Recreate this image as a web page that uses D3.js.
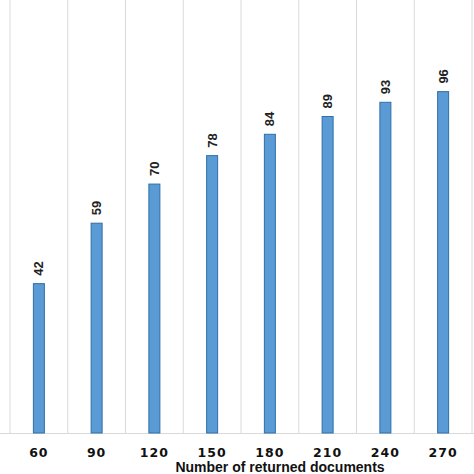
<!DOCTYPE html><html><head><script src="https://cdn.jsdelivr.net/npm/d3@7"></script>
<style>body{margin:0;background:#fff}</style></head><body><svg id="c" width="474" height="474"></svg>
<script>
const categories=["60","90","120","150","180","210","240","270"];
const values=[42,59,70,78,84,89,93,96];
const svg=d3.select("#c");
const x=d3.scaleBand().domain(categories).range([10,472]).paddingInner(0).paddingOuter(0);
const y=d3.scaleLinear().domain([0,100]).range([433,77.4]);
const g=svg.append("g");
const edges=categories.map(c=>x(c)).concat([x(categories[categories.length-1])+x.bandwidth()]);
g.selectAll("line.grid").data(edges).join("line").attr("x1",d=>d).attr("x2",d=>d).attr("y1",0).attr("y2",433).attr("stroke","#d9d9d9").attr("stroke-width",1);
g.append("line").attr("x1",0).attr("x2",474).attr("y1",433.5).attr("y2",433.5).attr("stroke","#d9d9d9");
const bw=11;
g.selectAll("rect").data(values).join("rect").attr("x",(d,i)=>x(categories[i])+x.bandwidth()/2-bw/2).attr("width",bw).attr("y",d=>y(d)).attr("height",d=>433-y(d)).attr("fill","#5b9bd5").attr("stroke","#2f6ea8").attr("stroke-width",1);
g.selectAll("text.v").data(values).join("text").attr("transform",(d,i)=>`translate(${x(categories[i])+x.bandwidth()/2+4.5},${y(d)-8}) rotate(-90)`).text(d=>d).attr("font-family","Liberation Sans, Arial").attr("font-weight","bold").attr("font-size",13).attr("fill","#222");
g.selectAll("text.t").data(categories).join("text").attr("x",d=>x(d)+x.bandwidth()/2).attr("y",457).attr("text-anchor","middle").text(d=>d).attr("font-family","DejaVu Sans").attr("font-weight","bold").attr("font-size",12.5).attr("letter-spacing",1).attr("fill","#111");
svg.append("text").attr("x",280).attr("y",472).attr("text-anchor","middle").text("Number of returned documents").attr("font-family","Liberation Sans, Arial").attr("font-weight","bold").attr("font-size",14).attr("fill","#111");
</script></body></html>
